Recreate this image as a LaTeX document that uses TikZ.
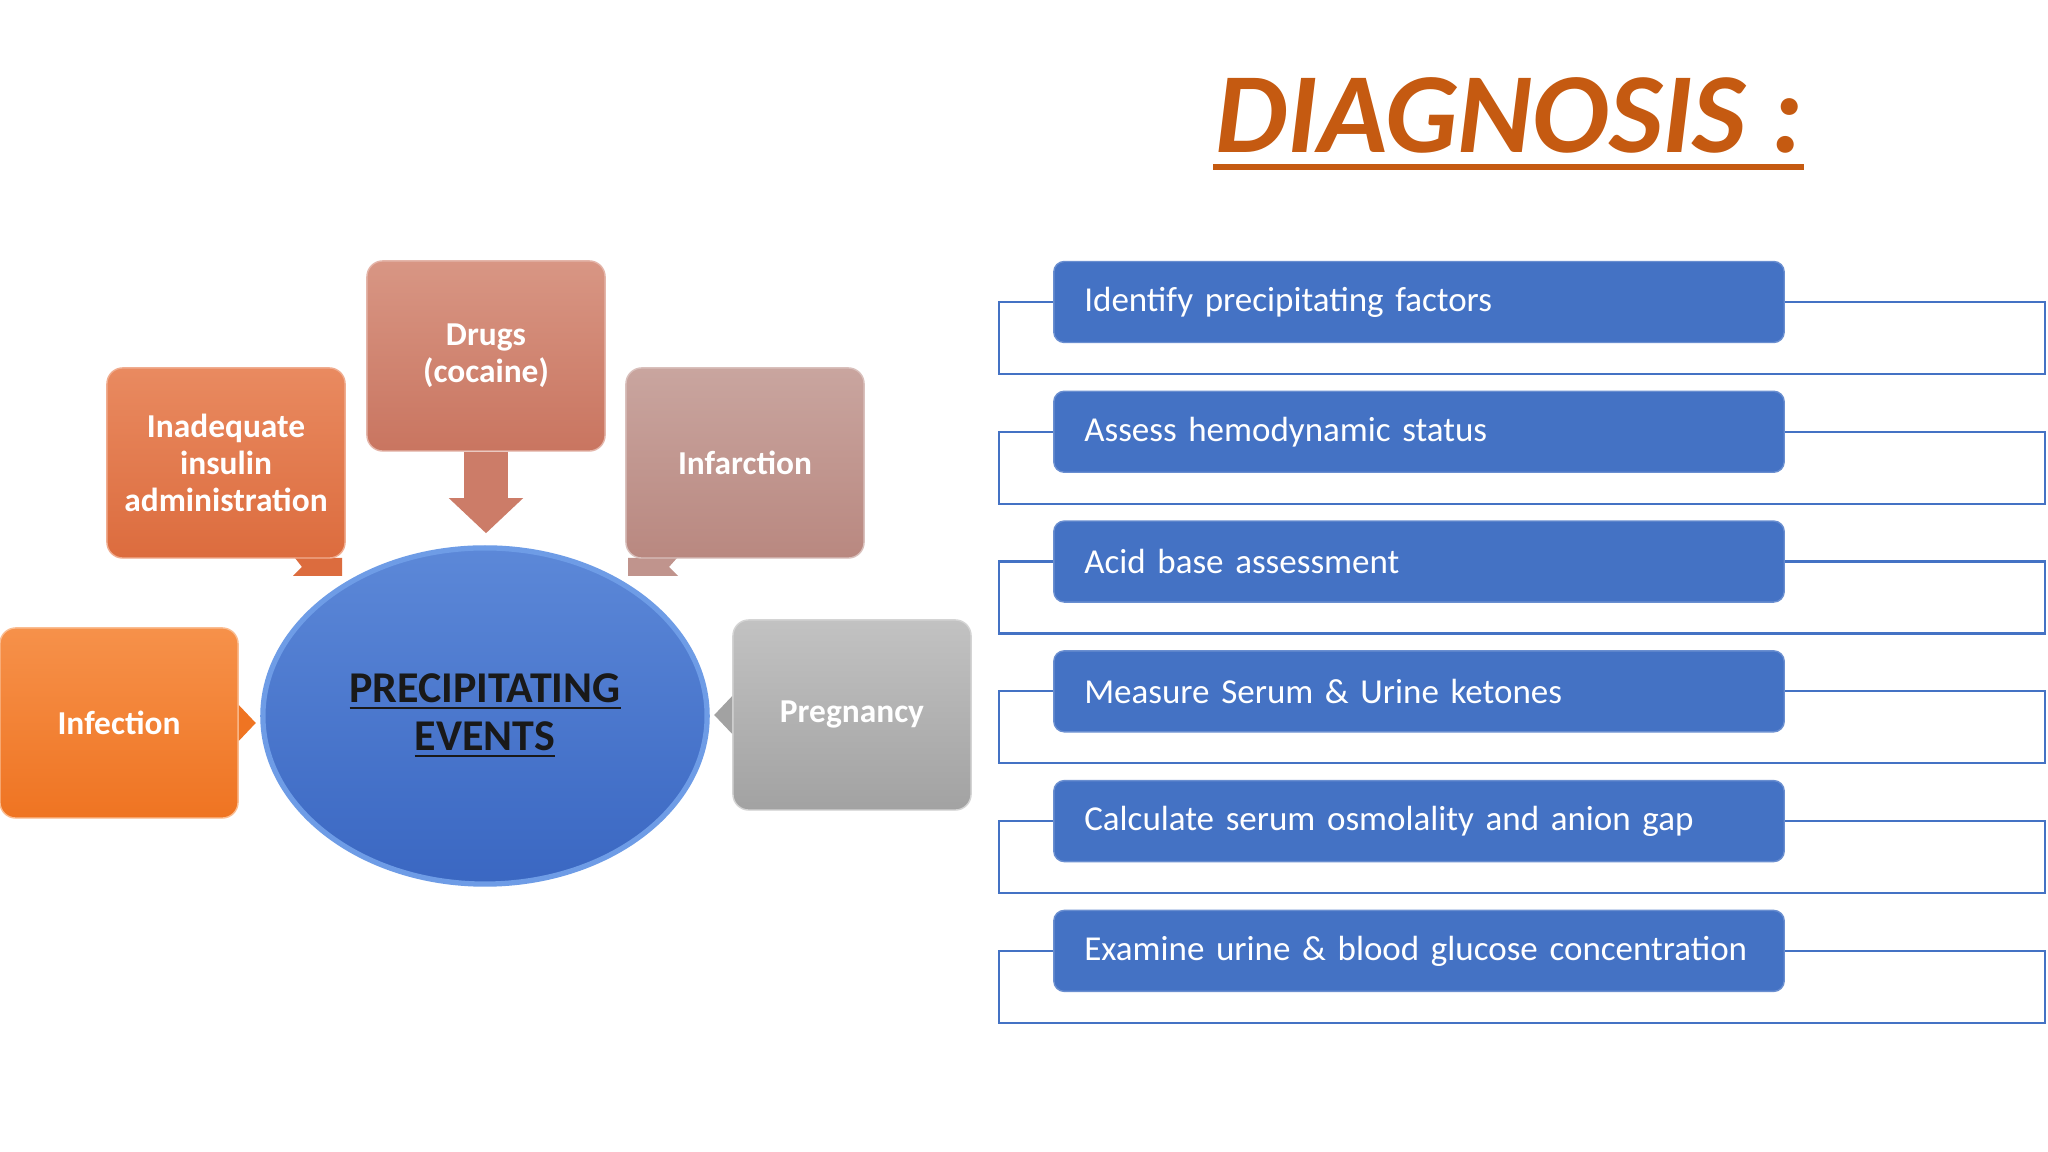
\documentclass[tikz,border=0pt]{standalone}
\usepackage{fontspec}
\setmainfont{Carlito}
\usepackage{xcolor}
\usetikzlibrary{shapes.geometric,arrows.meta,positioning,calc}

\definecolor{stepblue}{HTML}{4472C4}
\definecolor{titleorange}{HTML}{C55A11}
\definecolor{infA}{HTML}{F6914A}\definecolor{infB}{HTML}{EF7422}
\definecolor{insA}{HTML}{E98A60}\definecolor{insB}{HTML}{DC6C3E}
\definecolor{drgA}{HTML}{D89684}\definecolor{drgB}{HTML}{C97560}
\definecolor{ifcA}{HTML}{C9A59F}\definecolor{ifcB}{HTML}{B98880}
\definecolor{prgA}{HTML}{C2C2C2}\definecolor{prgB}{HTML}{A2A2A2}
\definecolor{ellA}{HTML}{5C88D8}\definecolor{ellB}{HTML}{3A67C2}
\definecolor{ellrim}{HTML}{6E9CE6}

\begin{document}
\begin{tikzpicture}[x=0.01cm, y=0.01cm,
  cause/.style={rectangle, rounded corners=4.5pt, minimum width=2.38cm, minimum height=1.9cm,
                align=center, text=white, inner sep=2pt,
                font=\fontsize{9.5}{10.5}\selectfont\bfseries},
  stepbox/.style={rectangle, rounded corners=3pt, fill=stepblue, draw=stepblue!80!white,
                  minimum width=7.3cm, minimum height=0.81cm, text width=6.69cm, inner xsep=0.305cm,
                  align=left, text=white, font=\fontsize{9.95}{12}\selectfont},
  brk/.style={draw=stepblue, line width=0.6pt},
  fat/.style={draw=drgB!95!white, line width=0.44cm, -{Triangle[width=0.72cm, length=0.35cm]}, shorten >=0.12cm}
]
  \fill[white] (0,0) rectangle (2048,1152);
  \useasboundingbox (0,0) rectangle (2048,1152);

  % title
  \node[anchor=base west, inner sep=0, text=titleorange,
        font=\fontsize{32.5}{36}\selectfont\bfseries\itshape] (T) at (1215,999) {DIAGNOSIS :};
  \draw[titleorange, line width=0.065cm] ($(T.base west)+(-2,-14)$) -- ($(T.base east)+(0,-14)$);

  % precipitating events
  \node[ellipse, minimum width=4.44cm, minimum height=3.36cm, top color=ellA, bottom color=ellB,
        draw=ellrim, line width=1.5pt, align=center, text=black!90,
        font=\fontsize{12.5}{13.7}\selectfont\bfseries] (E) at (485,436)
        {\underline{PRECIPITATING}\\\underline{EVENTS}};

  \fill[insB] (345,594) ++(-3,0) -- ++(-47,0) -- ++(7,-9) -- ++(-9,-9) -- ++(49,0) -- cycle;
  \fill[ifcB!90!white] (627,594) ++(1,0) -- ++(0,-18) -- ++(50,0) -- ++(-9,9) -- ++(8,9) -- cycle;

  \node[cause, top color=infA, bottom color=infB, draw=infA!60!white] (I) at (119,429) {Infection};
  \node[cause, top color=insA, bottom color=insB, draw=insA!70!white] (U) at (226,689) {Inadequate\\insulin\\administration};
  \node[cause, top color=drgA, bottom color=drgB, draw=drgA!70!white] (D) at (486,796) {Drugs\\(cocaine)};
  \node[cause, top color=ifcA, bottom color=ifcB, draw=ifcA!70!white] (F) at (745,689) {Infarction};
  \node[cause, top color=prgA, bottom color=prgB, draw=prgA!70!white] (P) at (852,437) {Pregnancy};

  \draw[fat] (D.south) -- (D.south |- E.north);
  \fill[infB] (I.east) ++(0,18) -- ++(17,-18) -- ++(-17,-18) -- cycle;
  \fill[prgB] (P.west) ++(0,19) -- ++(-18,-19) -- ++(18,-19) -- cycle;

  % diagnosis steps
  \node[stepbox] (s1) at (1419,850) {Identify precipitating factors};
  \node[stepbox, below=0.473cm of s1] (s2) {Assess hemodynamic status};
  \node[stepbox, below=0.473cm of s2] (s3) {Acid base assessment};
  \node[stepbox, below=0.473cm of s3] (s4) {Measure Serum \& Urine ketones};
  \node[stepbox, below=0.473cm of s4] (s5) {Calculate serum osmolality and anion gap};
  \node[stepbox, below=0.473cm of s5] (s6) {Examine urine \& blood glucose concentration};

  \draw[brk] (s1.west) -- ++(-54,0) -- ++(0,-72) -- ++(1046,0) -- ++(0,72) -- (s1.east);
  \draw[brk] (s2.west) -- ++(-54,0) -- ++(0,-72) -- ++(1046,0) -- ++(0,72) -- (s2.east);
  \draw[brk] (s3.west) -- ++(-54,0) -- ++(0,-72) -- ++(1046,0) -- ++(0,72) -- (s3.east);
  \draw[brk] (s4.west) -- ++(-54,0) -- ++(0,-72) -- ++(1046,0) -- ++(0,72) -- (s4.east);
  \draw[brk] (s5.west) -- ++(-54,0) -- ++(0,-72) -- ++(1046,0) -- ++(0,72) -- (s5.east);
  \draw[brk] (s6.west) -- ++(-54,0) -- ++(0,-72) -- ++(1046,0) -- ++(0,72) -- (s6.east);
\end{tikzpicture}
\end{document}
